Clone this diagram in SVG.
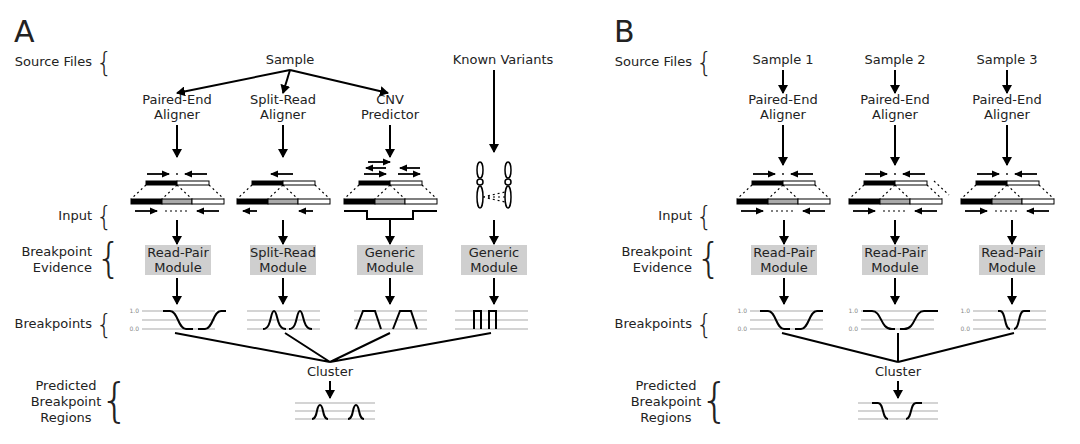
<svg xmlns="http://www.w3.org/2000/svg" xmlns:xlink="http://www.w3.org/1999/xlink" width="1080" height="444" viewBox="0 0 1080 444">
<style>
text{font-family:"DejaVu Sans",sans-serif;font-size:13px;fill:#222;text-anchor:middle}
.lbl{text-anchor:end}
.big{font-size:30px;text-anchor:start}
.brace{font-size:26px;text-anchor:start;font-weight:200}
.ax{font-size:6px;fill:#888;text-anchor:end}
.ln{stroke:#000;stroke-width:2;fill:none}
.arr{stroke:#000;stroke-width:2;fill:none;marker-end:url(#ah)}
.sa{stroke:#000;stroke-width:1.8;fill:none;marker-end:url(#sh)}
.dot{stroke:#000;stroke-width:1.2;stroke-dasharray:2 3;fill:none}
.mod{fill:#cfcfcf}
.g{stroke:#aaa;stroke-width:1.2}
.cv{stroke:#000;stroke-width:2;fill:none}
</style>
<defs>
<marker id="ah" markerWidth="10" markerHeight="10" refX="8" refY="5" orient="auto" markerUnits="userSpaceOnUse"><path d="M0,0 L9,5 L0,10 Z"/></marker>
<marker id="sh" markerWidth="8" markerHeight="8" refX="7" refY="4" orient="auto" markerUnits="userSpaceOnUse"><path d="M0,0.5 L8,4 L0,7.5 Z"/></marker>
<g id="bars">
<rect x="-31" y="181" width="31" height="4" fill="#000" stroke="#000"/>
<rect x="0" y="181" width="32" height="4" fill="#fff" stroke="#000"/>
<line class="dot" x1="-31" y1="185" x2="-46" y2="199"/><line class="dot" x1="0" y1="185" x2="-15" y2="199"/>
<line class="dot" x1="0" y1="185" x2="15" y2="199"/><line class="dot" x1="32" y1="185" x2="47" y2="199"/>
<rect x="-46" y="199" width="31" height="5" fill="#000" stroke="#000"/>
<rect x="-15" y="199" width="30" height="5" fill="#aaa" stroke="#000"/>
<rect x="15" y="199" width="32" height="5" fill="#fff" stroke="#000"/>
</g>
<g id="rp">
<use xlink:href="#bars"/>
<line class="sa" x1="-30" y1="174" x2="-8" y2="174"/><circle cx="0" cy="174" r="0.9"/><line class="sa" x1="30" y1="174" x2="8" y2="174"/>
<line class="sa" x1="-42" y1="211" x2="-20" y2="211"/><line class="dot" x1="-12" y1="211" x2="12" y2="211"/><line class="sa" x1="42" y1="211" x2="20" y2="211"/>
</g>
<g id="grid"><line class="g" x1="-28" y1="311" x2="45" y2="311"/><line class="g" x1="-28" y1="320" x2="45" y2="320"/><line class="g" x1="-28" y1="329" x2="45" y2="329"/></g>
<g id="gridl"><use xlink:href="#grid"/><text class="ax" x="-31" y="313">1.0</text><text class="ax" x="-31" y="331">0.0</text></g>
</defs>
<text class="big" x="14" y="42">A</text>
<text class="big" x="614" y="42">B</text>
<g id="rowlabels">
<text class="lbl" x="92" y="66">Source Files</text><text class="brace" x="96" y="71">{</text>
<text class="lbl" x="92" y="220">Input</text><text class="brace" x="96" y="225">{</text>
<text class="lbl" x="92" y="256">Breakpoint</text><text class="lbl" x="92" y="272">Evidence</text><text class="brace" x="96" y="272" style="font-size:40px">{</text>
<text class="lbl" x="92" y="328">Breakpoints</text><text class="brace" x="96" y="333">{</text>
<text x="66" y="390">Predicted</text><text x="66" y="406">Breakpoint</text><text x="66" y="422">Regions</text><text class="brace" x="100" y="416" style="font-size:46px">{</text>
<text class="lbl" x="692" y="66">Source Files</text><text class="brace" x="696" y="71">{</text>
<text class="lbl" x="692" y="220">Input</text><text class="brace" x="696" y="225">{</text>
<text class="lbl" x="692" y="256">Breakpoint</text><text class="lbl" x="692" y="272">Evidence</text><text class="brace" x="696" y="272" style="font-size:40px">{</text>
<text class="lbl" x="692" y="328">Breakpoints</text><text class="brace" x="696" y="333">{</text>
<text x="666" y="390">Predicted</text><text x="666" y="406">Breakpoint</text><text x="666" y="422">Regions</text><text class="brace" x="700" y="416" style="font-size:46px">{</text>
</g>
<g id="sources">
<text x="290" y="64">Sample</text><text x="503" y="64">Known Variants</text>
<text x="783" y="64">Sample 1</text><text x="895" y="64">Sample 2</text><text x="1007" y="64">Sample 3</text>
</g>
<g id="aligners">
<text x="177" y="104">Paired-End</text><text x="177" y="119">Aligner</text>
<text x="283" y="104">Split-Read</text><text x="283" y="119">Aligner</text>
<text x="390" y="104">CNV</text><text x="390" y="119">Predictor</text>
<text x="783" y="104">Paired-End</text><text x="783" y="119">Aligner</text>
<text x="895" y="104">Paired-End</text><text x="895" y="119">Aligner</text>
<text x="1007" y="104">Paired-End</text><text x="1007" y="119">Aligner</text>
</g>
<g id="inputs">
<use xlink:href="#rp" x="177"/>
<g transform="translate(283,0)"><use xlink:href="#bars"/><line class="sa" x1="10" y1="174" x2="-12" y2="174"/><line class="sa" x1="-26" y1="211" x2="-40" y2="211"/><line class="sa" x1="30" y1="211" x2="16" y2="211"/></g>
<g transform="translate(390,0)"><use xlink:href="#bars"/>
<line class="sa" x1="-22" y1="162" x2="0" y2="162"/><line class="sa" x1="-4" y1="168" x2="-24" y2="168"/><line class="sa" x1="-26" y1="174" x2="-4" y2="174"/>
<line class="sa" x1="30" y1="168" x2="10" y2="168"/><line class="sa" x1="8" y1="174" x2="30" y2="174"/>
<path class="ln" d="M-46,211 H-23 V219 H23 V211 H47"/></g>
<g transform="translate(494,0)" stroke="#000" stroke-width="1.5" fill="#fff">
<ellipse cx="-14" cy="170" rx="3" ry="8"/><circle cx="-14" cy="182" r="3"/><ellipse cx="-14" cy="197" rx="3" ry="11"/>
<ellipse cx="14" cy="170" rx="3" ry="8"/><circle cx="14" cy="182" r="3"/><ellipse cx="14" cy="197" rx="3" ry="11"/>
<path class="dot" d="M-11,197 L11,192 M-11,197 L11,197 M-11,197 L11,202"/>
</g>
<use xlink:href="#rp" x="783"/>
<g transform="translate(895,0)"><use xlink:href="#rp"/><line class="dot" x1="39" y1="181" x2="54" y2="195"/></g>
<use xlink:href="#rp" x="1007"/>
</g>
<g id="modules">
<rect class="mod" x="145" y="245" width="66" height="30"/><text x="178" y="257">Read-Pair</text><text x="178" y="272">Module</text>
<rect class="mod" x="250" y="245" width="66" height="30"/><text x="283" y="257">Split-Read</text><text x="283" y="272">Module</text>
<rect class="mod" x="357" y="245" width="66" height="30"/><text x="390" y="257">Generic</text><text x="390" y="272">Module</text>
<rect class="mod" x="461" y="245" width="66" height="30"/><text x="494" y="257">Generic</text><text x="494" y="272">Module</text>
<rect class="mod" x="751" y="245" width="66" height="30"/><text x="784" y="257">Read-Pair</text><text x="784" y="272">Module</text>
<rect class="mod" x="862" y="245" width="66" height="30"/><text x="895" y="257">Read-Pair</text><text x="895" y="272">Module</text>
<rect class="mod" x="979" y="245" width="66" height="30"/><text x="1012" y="257">Read-Pair</text><text x="1012" y="272">Module</text>
</g>
<g id="breakpoints">
<use xlink:href="#gridl" x="170"/>
<path class="cv" d="M163,311 H170 C178,311 178,329 186,329 H193 M198,329 H205 C213,329 213,311 221,311 H226"/>
<use xlink:href="#grid" x="275"/>
<path class="cv" d="M263,329 C272,329 270,311 274,311 C278,311 276,329 286,329 M289,329 C298,329 296,311 300,311 C304,311 302,329 312,329"/>
<use xlink:href="#grid" x="382"/>
<path class="cv" d="M356,329 L363,311 H375 L381,329 M393,329 L400,311 H411 L417,329"/>
<use xlink:href="#grid" x="483"/>
<path class="cv" d="M474,329 V311 H481 V329 M489,329 V311 H496 V329"/>
<use xlink:href="#gridl" x="778"/>
<path class="cv" d="M760,311 H768 C776,311 776,329 784,329 H790 M795,329 H801 C809,329 809,311 817,311 H823"/>
<use xlink:href="#gridl" x="889"/>
<path class="cv" d="M863,311 H872 C882,311 880,329 892,329 H895 M900,329 H904 C916,329 914,311 924,311 H938"/>
<use xlink:href="#gridl" x="1001"/>
<path class="cv" d="M998,311 H1000 C1006,311 1004,329 1010,329 M1014,329 C1020,329 1018,311 1024,311 H1030"/>
</g>
<g id="clusters">
<text x="330" y="376">Cluster</text>
<g transform="translate(300,0)"><line class="g" x1="-5" y1="403" x2="75" y2="403"/><line class="g" x1="-5" y1="411" x2="75" y2="411"/><line class="g" x1="-5" y1="419" x2="75" y2="419"/></g>
<path class="cv" d="M312,419 C318,419 316,405 320,405 C324,405 322,419 328,419 M348,419 C354,419 352,405 356,405 C360,405 358,419 364,419"/>
<text x="898" y="376">Cluster</text>
<g transform="translate(858,0)"><line class="g" x1="0" y1="403" x2="80" y2="403"/><line class="g" x1="0" y1="411" x2="80" y2="411"/><line class="g" x1="0" y1="419" x2="80" y2="419"/></g>
<path class="cv" d="M872,403 H878 C884,403 882,419 888,419 M906,419 C912,419 910,403 916,403 H922"/>
</g>
<g id="connectors">
<line class="arr" x1="290" y1="70" x2="177" y2="93"/><line class="arr" x1="290" y1="70" x2="283" y2="93"/><line class="arr" x1="290" y1="70" x2="388" y2="93"/>
<line class="arr" x1="494" y1="70" x2="494" y2="152"/>
<line class="arr" x1="783" y1="70" x2="783" y2="93"/><line class="arr" x1="895" y1="70" x2="895" y2="93"/><line class="arr" x1="1007" y1="70" x2="1007" y2="93"/>
<line class="arr" x1="177" y1="125" x2="177" y2="157"/><line class="arr" x1="283" y1="125" x2="283" y2="157"/><line class="arr" x1="390" y1="125" x2="390" y2="157"/>
<line class="arr" x1="783" y1="125" x2="783" y2="165"/><line class="arr" x1="895" y1="125" x2="895" y2="165"/><line class="arr" x1="1007" y1="125" x2="1007" y2="165"/>
<line class="arr" x1="177" y1="220" x2="177" y2="244"/><line class="arr" x1="283" y1="220" x2="283" y2="244"/><line class="arr" x1="390" y1="219" x2="390" y2="244"/><line class="arr" x1="494" y1="220" x2="494" y2="244"/>
<line class="arr" x1="784" y1="220" x2="784" y2="244"/><line class="arr" x1="895" y1="220" x2="895" y2="244"/><line class="arr" x1="1012" y1="220" x2="1012" y2="244"/>
<line class="arr" x1="177" y1="278" x2="177" y2="304"/><line class="arr" x1="283" y1="278" x2="283" y2="304"/><line class="arr" x1="390" y1="278" x2="390" y2="304"/><line class="arr" x1="494" y1="278" x2="494" y2="304"/>
<line class="arr" x1="784" y1="278" x2="784" y2="304"/><line class="arr" x1="895" y1="278" x2="895" y2="304"/><line class="arr" x1="1012" y1="278" x2="1012" y2="304"/>
<path class="ln" d="M175,333 L330,362 M285,333 L330,362 M390,333 L330,362 M491,333 L330,362"/>
<path class="ln" d="M782,333 L898,362 M898,333 V362 M1014,333 L898,362"/>
<line class="arr" x1="330" y1="381" x2="330" y2="398"/>
<line class="arr" x1="898" y1="381" x2="898" y2="398"/>
</g>
</svg>
